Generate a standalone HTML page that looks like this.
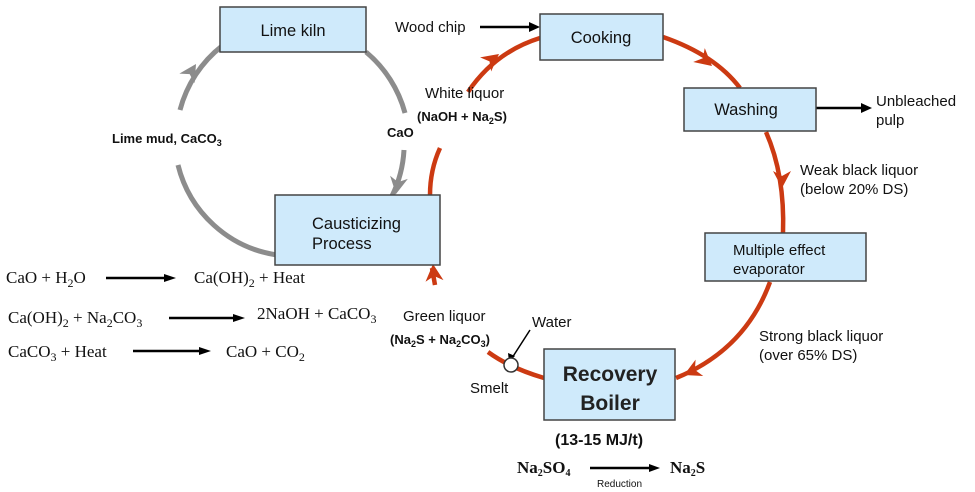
<!DOCTYPE html>
<html><head><meta charset="utf-8"><style>
html,body{margin:0;padding:0;background:#fff;}
svg{display:block;}
text{font-family:"Liberation Sans",Arial,sans-serif;fill:#111;}
.s{font-family:"Liberation Serif","Times New Roman",serif;font-size:17px;}
</style></head><body>
<svg width="975" height="492" viewBox="0 0 975 492" xmlns="http://www.w3.org/2000/svg">
<defs>
<polygon id="ah" points="0,0 -17,-9 -12,0 -17,9"/>
</defs>
<!-- gray cycle -->
<g fill="none" stroke="#8c8c8c" stroke-width="5">
<path d="M180,110 A120,120 0 0 1 222,46"/>
<path d="M366,52 A120,120 0 0 1 405,113"/>
<path d="M404,150 A120,120 0 0 1 392,196"/>
<path d="M178,165 A120,120 0 0 0 277,255"/>
</g>
<g fill="#8c8c8c">
<use href="#ah" transform="translate(196,64) rotate(-58)"/>
<use href="#ah" transform="translate(396,194) rotate(100)"/>
</g>
<!-- red cycle -->
<g fill="none" stroke="#cc3a12" stroke-width="4.5">
<path d="M663,37 Q715,55 740,88"/>
<path d="M766,132 Q785,175 783,233"/>
<path d="M770,282 Q745,350 676,378"/>
<path d="M544,378 Q510,368 488,352"/>
<path d="M432,268 L435,285"/>
<path d="M430,195 Q430,170 440,148"/>
<path d="M468,92 Q495,52 540,38"/>
</g>
<g fill="#cc3a12">
<use href="#ah" transform="translate(712,66) rotate(40)"/>
<use href="#ah" transform="translate(782,188) rotate(90)"/>
<use href="#ah" transform="translate(684,375) rotate(155)"/>
<use href="#ah" transform="translate(433,264) rotate(-95)"/>
<use href="#ah" transform="translate(499,54) rotate(-38)"/>
</g>
<!-- black arrows -->
<g stroke="#000" stroke-width="2.5">
<line x1="480" y1="27" x2="530" y2="27"/>
<line x1="816" y1="108" x2="862" y2="108"/>
<line x1="106" y1="278" x2="165" y2="278"/>
<line x1="169" y1="318" x2="235" y2="318"/>
<line x1="133" y1="351" x2="200" y2="351"/>
<line x1="590" y1="468" x2="650" y2="468"/>
<line x1="530" y1="330" x2="512" y2="358" stroke-width="1.5"/>
</g>
<g fill="#000">
<polygon points="540,27 529,22 529,32"/>
<polygon points="872,108 861,103 861,113"/>
<polygon points="176,278 164,274 164,282"/>
<polygon points="245,318 233,314 233,322"/>
<polygon points="211,351 199,347 199,355"/>
<polygon points="660,468 649,464 649,472"/>
<polygon points="509,362 508,353 515,356"/>
</g>
<circle cx="511" cy="365" r="7" fill="#fff" stroke="#333" stroke-width="1.5"/>
<!-- boxes -->
<g fill="#cfeafb" stroke="#444" stroke-width="1.5">
<rect x="220" y="7" width="146" height="45"/>
<rect x="540" y="14" width="123" height="46"/>
<rect x="684" y="88" width="132" height="43"/>
<rect x="705" y="233" width="161" height="48"/>
<rect x="275" y="195" width="165" height="70"/>
<rect x="544" y="349" width="131" height="71"/>
</g>
<text x="293" y="36" font-size="16.5" text-anchor="middle">Lime kiln</text>
<text x="601" y="43" font-size="16.5" text-anchor="middle">Cooking</text>
<text x="746" y="115" font-size="16.5" text-anchor="middle">Washing</text>
<text x="733" y="255" font-size="15">Multiple effect</text>
<text x="733" y="274" font-size="15">evaporator</text>
<text x="312" y="229" font-size="16.5">Causticizing</text>
<text x="312" y="249" font-size="16.5">Process</text>
<text x="610" y="381" font-size="21" font-weight="bold" text-anchor="middle" style="fill:#222">Recovery</text>
<text x="610" y="410" font-size="21" font-weight="bold" text-anchor="middle" style="fill:#222">Boiler</text>
<!-- labels -->
<text x="395" y="32" font-size="15">Wood chip</text>
<text x="876" y="106" font-size="15">Unbleached</text>
<text x="876" y="125" font-size="15">pulp</text>
<text x="800" y="175" font-size="15">Weak black liquor</text>
<text x="800" y="194" font-size="15">(below 20% DS)</text>
<text x="759" y="341" font-size="15">Strong black liquor</text>
<text x="759" y="360" font-size="15">(over 65% DS)</text>
<text x="425" y="98" font-size="15">White liquor</text>
<text x="417" y="121" font-size="13" font-weight="bold">(NaOH + Na<tspan font-size="9" dy="3">2</tspan><tspan dy="-3">S)</tspan></text>
<text x="387" y="137" font-size="13" font-weight="bold">CaO</text>
<text x="112" y="143" font-size="13" font-weight="bold">Lime mud, CaCO<tspan font-size="9" dy="3">3</tspan></text>
<text x="403" y="321" font-size="15">Green liquor</text>
<text x="390" y="344" font-size="13" font-weight="bold">(Na<tspan font-size="9" dy="3">2</tspan><tspan dy="-3">S + Na</tspan><tspan font-size="9" dy="3">2</tspan><tspan dy="-3">CO</tspan><tspan font-size="9" dy="3">3</tspan><tspan dy="-3">)</tspan></text>
<text x="532" y="327" font-size="15">Water</text>
<text x="470" y="393" font-size="15">Smelt</text>
<text x="555" y="445" font-size="16" font-weight="bold">(13-15 MJ/t)</text>
<text x="517" y="473" class="s" font-size="14" font-weight="bold">Na<tspan font-size="10" dy="3">2</tspan><tspan dy="-3">SO</tspan><tspan font-size="10" dy="3">4</tspan></text>
<text x="670" y="473" class="s" font-size="14" font-weight="bold">Na<tspan font-size="10" dy="3">2</tspan><tspan dy="-3">S</tspan></text>
<text x="597" y="487" font-size="10">Reduction</text>
<!-- equations -->
<text x="6" y="283" class="s">CaO + H<tspan font-size="12" dy="4">2</tspan><tspan dy="-4">O</tspan></text>
<text x="194" y="283" class="s">Ca(OH)<tspan font-size="12" dy="4">2</tspan><tspan dy="-4"> + Heat</tspan></text>
<text x="8" y="323" class="s">Ca(OH)<tspan font-size="12" dy="4">2</tspan><tspan dy="-4"> + Na</tspan><tspan font-size="12" dy="4">2</tspan><tspan dy="-4">CO</tspan><tspan font-size="12" dy="4">3</tspan></text>
<text x="257" y="319" class="s">2NaOH + CaCO<tspan font-size="12" dy="4">3</tspan></text>
<text x="8" y="357" class="s">CaCO<tspan font-size="12" dy="4">3</tspan><tspan dy="-4"> + Heat</tspan></text>
<text x="226" y="357" class="s">CaO + CO<tspan font-size="12" dy="4">2</tspan></text>
</svg>
</body></html>
